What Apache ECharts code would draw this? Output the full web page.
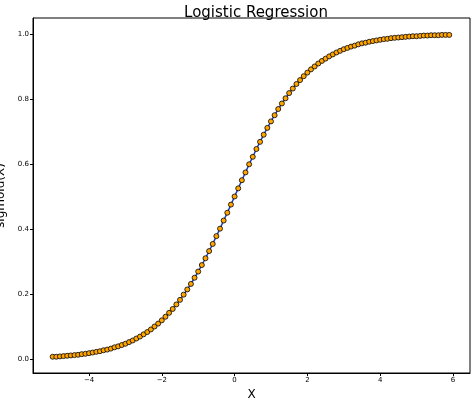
<!DOCTYPE html>
<html><head><meta charset="utf-8">
<script src="https://cdn.jsdelivr.net/npm/echarts@6/dist/echarts.min.js"></script>
<style>html,body{margin:0;padding:0;background:#fff}#c{width:474px;height:402px}</style>
</head><body><div id="c"></div>
<script>
const xValues = [-5.0,-4.9,-4.8,-4.7,-4.6,-4.5,-4.4,-4.3,-4.2,-4.1,-4.0,-3.9,-3.8,-3.7,-3.6,-3.5,-3.4,-3.3,-3.2,-3.1,-3.0,-2.9,-2.8,-2.7,-2.6,-2.5,-2.4,-2.3,-2.2,-2.1,-2.0,-1.9,-1.8,-1.7,-1.6,-1.5,-1.4,-1.3,-1.2,-1.1,-1.0,-0.9,-0.8,-0.7,-0.6,-0.5,-0.4,-0.3,-0.2,-0.1,0.0,0.1,0.2,0.3,0.4,0.5,0.6,0.7,0.8,0.9,1.0,1.1,1.2,1.3,1.4,1.5,1.6,1.7,1.8,1.9,2.0,2.1,2.2,2.3,2.4,2.5,2.6,2.7,2.8,2.9,3.0,3.1,3.2,3.3,3.4,3.5,3.6,3.7,3.8,3.9,4.0,4.1,4.2,4.3,4.4,4.5,4.6,4.7,4.8,4.9,5.0,5.1,5.2,5.3,5.4,5.5,5.6,5.7,5.8,5.9];
const yValues = [0.007,0.007,0.008,0.009,0.010,0.011,0.012,0.013,0.015,0.016,0.018,0.020,0.022,0.024,0.027,0.029,0.032,0.036,0.039,0.043,0.047,0.052,0.057,0.063,0.069,0.076,0.083,0.091,0.100,0.109,0.119,0.130,0.142,0.154,0.168,0.182,0.198,0.214,0.231,0.250,0.269,0.289,0.310,0.332,0.354,0.378,0.401,0.426,0.450,0.475,0.500,0.525,0.550,0.574,0.599,0.622,0.646,0.668,0.690,0.711,0.731,0.750,0.769,0.786,0.802,0.818,0.832,0.846,0.858,0.870,0.881,0.891,0.900,0.909,0.917,0.924,0.931,0.937,0.943,0.948,0.953,0.957,0.961,0.964,0.968,0.971,0.973,0.976,0.978,0.980,0.982,0.984,0.985,0.987,0.988,0.989,0.990,0.991,0.992,0.993,0.993,0.994,0.995,0.995,0.996,0.996,0.996,0.997,0.997,0.997];
const xTicks = [-4,-2,0,2,4,6];
const yTicks = [0.0,0.2,0.4,0.6,0.8,1.0];
const F = 'DejaVu Sans';
const chart = echarts.init(document.getElementById('c'));
chart.setOption({
  animation:false,
  title:{text:'Logistic Regression',left:251,top:1,textAlign:'center',textStyle:{fontFamily:F,fontSize:15,fontWeight:'normal',color:'#000'}},
  grid:{left:33,right:4,top:18,bottom:29,show:true,borderColor:'#000',borderWidth:1,containLabel:false,outerBoundsMode:'none'},
  xAxis:{type:'value',min:-5.54,max:6.47,name:'X',nameLocation:'middle',nameGap:15,
    nameTextStyle:{fontFamily:F,fontSize:12,color:'#000'},
    axisLine:{onZero:false,lineStyle:{color:'#000'}},splitLine:{show:false},
    axisTick:{customValues:xTicks,inside:false,length:3,lineStyle:{color:'#000'}},
    axisLabel:{customValues:xTicks,fontFamily:F,fontSize:7,color:'#000',margin:4,formatter:v=>String(v).replace('-','\u2212')}},
  yAxis:{type:'value',min:-0.043,max:1.049,name:'sigmoid(X)',nameLocation:'middle',nameGap:22,
    nameTextStyle:{fontFamily:F,fontSize:12,color:'#000'},
    axisLine:{show:true,onZero:false,lineStyle:{color:'#000'}},splitLine:{show:false},
    axisTick:{show:true,customValues:yTicks,length:3,lineStyle:{color:'#000'}},
    axisLabel:{customValues:yTicks,fontFamily:F,fontSize:7,color:'#000',margin:4,formatter:v=>v.toFixed(1)}},
  series:[{type:'line',data:xValues.map((x,i)=>[x,yValues[i]]),
    lineStyle:{color:'#1f3fbf',width:1.5},
    symbol:'circle',symbolSize:5,
    itemStyle:{color:'#ffa500',borderColor:'#000',borderWidth:0.8}}]
});
</script></body></html>
